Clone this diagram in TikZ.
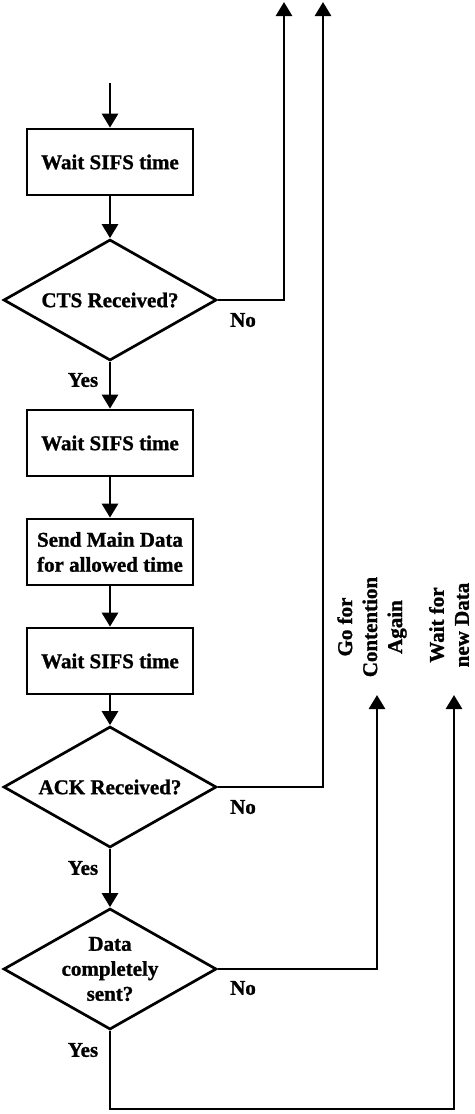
\documentclass[tikz,border=0pt]{standalone}
\usepackage{fontspec}
\setmainfont{Liberation Serif}[BoldFeatures={FakeBold=1.2}]
\usetikzlibrary{arrows.meta,shapes.geometric,positioning,calc}

\begin{document}
\begin{tikzpicture}[
    x=1pt, y=-1pt,
    line width=2.7pt,
    every node/.style={
        font=\bfseries\fontsize{21}{25}\selectfont
    },
    procbox/.style={
        draw,
        rectangle,
        minimum width=166pt,
        minimum height=66pt,
        inner sep=0pt,
        align=center
    },
    decbox/.style={
        draw,
        diamond,
        aspect=1.76,
        minimum width=213pt,
        minimum height=121pt,
        inner sep=0pt,
        align=center
    },
    flow/.style={-{Triangle[length=14pt,width=16pt]}},
    sidetext/.style={rotate=90, align=center}
]
\useasboundingbox (0,0) rectangle (474,1114);

% -------- Main column --------
\node[procbox] (wait1) at (110,162) {Wait SIFS time};
\node[decbox]  (cts)   at (110,300) {CTS Received?};
\node[procbox] (wait2) at (110,443) {Wait SIFS time};
\node[procbox] (send)  at (110,552) {Send Main Data\\for allowed time};
\node[procbox] (wait3) at (110,661) {Wait SIFS time};
\node[decbox]  (ack)   at (110,787) {ACK Received?};
\node[decbox]  (done)  at (110,969) {Data\\completely\\sent?};

% -------- Side texts --------
\node[sidetext] (contend) at (372,627) {Go for\\Contention\\Again};
\node[sidetext] (newdata) at (449,625) {Wait for\\new Data};

% -------- Free ends --------
\coordinate (start) at (110,83);
\coordinate (outA) at (284,2);
\coordinate (outB) at (323,2);
\coordinate (toContend) at (377,695);
\coordinate (toNew) at (454,695);
\coordinate (corner) at (454,1109);

% -------- Flow --------
\draw[flow] (start) -- (wait1);
\draw[flow] (wait1) -- (cts);
\draw[flow] (cts) -- (wait2);
\draw[flow] (wait2) -- (send);
\draw[flow] (send) -- (wait3);
\draw[flow] (wait3) -- (ack);
\draw[flow] (ack) -- (done);

% -------- Branches --------
\draw[flow] (cts.east) -| (outA);
\draw[flow] (ack.east) -| (outB);
\draw[flow] (done.east) -| (toContend);
\draw[flow] (done.south) |- (corner) -- (toNew);

% -------- Yes / No labels --------
\node (no1)  at (243,320) {No};
\node (yes1) at (83,380)  {Yes};
\node (no2)  at (243,807) {No};
\node (yes2) at (83,868)  {Yes};
\node (no3)  at (243,988) {No};
\node (yes3) at (83,1050) {Yes};

\end{tikzpicture}
\end{document}
